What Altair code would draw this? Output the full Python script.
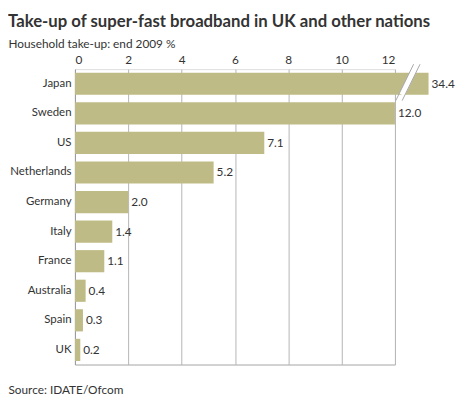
import altair as alt
import pandas as pd

countries = ["Japan", "Sweden", "US", "Netherlands", "Germany", "Italy",
             "France", "Australia", "Spain", "UK"]
values = [34.4, 12.0, 7.1, 5.2, 2.0, 1.4, 1.1, 0.4, 0.3, 0.2]
axis_values = [0, 2, 4, 6, 8, 10, 12]
axis_max = 12
break_cap = 13.26  # displayed length of a bar that runs off the axis

df = pd.DataFrame({
    "country": countries,
    "value": values,
    "shown": [min(v, break_cap) if v > axis_max else v for v in values],
})

# break marker on the clipped bar: white gap with two thin edge lines
gap = pd.DataFrame({"bx": [12.26, 12.72], "by": [0.87, 0.02]})
edges = pd.DataFrame({
    "bx": [12.03, 12.70, 12.27, 12.94],
    "by": [1.067, -0.167, 1.067, -0.167],
    "side": ["a", "a", "b", "b"],
})

FONT = "Lato"
TXT = "#333333"
BAR = "#bfbb86"
GRID = "#b5b5b5"

xscale = alt.Scale(domain=[0, axis_max], nice=False, zero=True)
yscale = alt.Scale(domain=countries, paddingInner=0.25, paddingOuter=0.12)

bars = alt.Chart(df).mark_bar(color=BAR).encode(
    x=alt.X("shown:Q", scale=xscale,
            axis=alt.Axis(orient="top", values=axis_values, grid=True, gridColor=GRID,
                          gridWidth=1, ticks=False, domain=False, labelPadding=3,
                          labelFont=FONT, labelFontSize=12, labelColor=TXT,
                          title="Household take-up: end 2009 %", titleFont=FONT,
                          titleFontSize=12, titleFontWeight="normal", titleColor=TXT,
                          titleX=-68, titleY=-22, titleAlign="left",
                          titleBaseline="alphabetic", titleAngle=0)),
    y=alt.Y("country:N", sort=countries, scale=yscale,
            axis=alt.Axis(title=None, ticks=False, domain=True, domainColor="#999999",
                          domainWidth=1, labelPadding=4, labelFont=FONT,
                          labelFontSize=11.6, labelColor=TXT)),
)

labels = alt.Chart(df).mark_text(align="left", baseline="middle", dx=3,
                                 font=FONT, fontSize=12, color=TXT).encode(
    x=alt.X("shown:Q", scale=xscale,
            axis=alt.Axis(orient="bottom", labels=False, ticks=False, grid=False,
                          domain=True, domainColor=GRID, domainWidth=1,
                          title="Source: IDATE/Ofcom", titleFont=FONT, titleFontSize=12,
                          titleFontWeight="normal", titleColor=TXT, titleX=-68,
                          titleY=29, titleAlign="left", titleBaseline="alphabetic",
                          titleAngle=0)),
    y=alt.Y("country:N", sort=countries, scale=yscale),
    text=alt.Text("value:Q", format=".1f"),
)

inner = alt.layer(bars, labels).resolve_axis(x="independent")

yb = alt.Scale(domain=[0, 10], reverse=True, nice=False, zero=False)
gap_line = alt.Chart(gap).mark_line(color="white", strokeWidth=6).encode(
    x=alt.X("bx:Q", scale=xscale, axis=None),
    y=alt.Y("by:Q", scale=yb, axis=None),
)
edge_lines = alt.Chart(edges).mark_line(color="#a8a8a8", strokeWidth=1).encode(
    x=alt.X("bx:Q", scale=xscale, axis=None),
    y=alt.Y("by:Q", scale=yb, axis=None),
    detail="side:N",
)

chart = alt.layer(inner, gap_line, edge_lines).resolve_scale(
    y="independent"
).resolve_axis(x="independent", y="independent").properties(
    width=325, height=300,
    autosize=alt.AutoSizeParams(type="none"),
    padding={"left": 68, "top": 59, "right": 62, "bottom": 37},
    title=alt.TitleParams("Take-up of super-fast broadband in UK and other nations",
                          anchor="start", font=FONT, fontSize=17, fontWeight="bold",
                          color=TXT, offset=7),
).configure_view(stroke=None).configure(background="white")

chart.save("out.html", embed_options={"renderer": "svg", "actions": False})
